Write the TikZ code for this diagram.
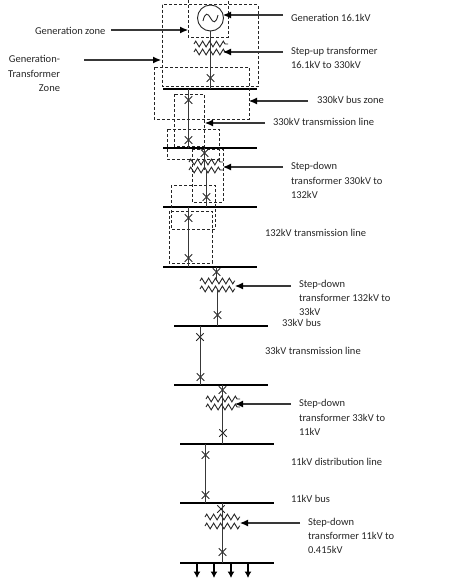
\documentclass[tikz,border=0pt]{standalone}
\usepackage{fontspec}
\setmainfont{Carlito}
\usetikzlibrary{arrows.meta,decorations.pathmorphing,shapes.misc}
\definecolor{ln}{HTML}{383838}
\tikzset{
 busbar/.style={draw=black,line width=1.7pt},
 feeder/.style={draw=ln,line width=1.2pt},
 zonebox/.style={draw=black!85,line width=0.9pt,dash pattern=on 3pt off 2pt},
 brk/.style={cross out,draw=black!85,line width=0.9pt,minimum size=7.5pt,inner sep=0pt,outer sep=0pt},
 winding/.style={draw=black!85,line width=0.9pt,decorate,decoration={zigzag,segment length=6.9pt,amplitude=2.9pt}},
 pointer/.style={draw=ln,line width=1.1pt,-{Latex[length=8pt,width=7pt,black]}},
 lab/.style={font=\fontsize{10.5pt}{14.3pt}\selectfont,text=black!85,inner sep=0pt,outer sep=0pt,anchor=west,align=left},
 load/.style={draw=black,line width=1.1pt,-{Latex[length=6.5pt,width=7pt]}},
}
\begin{document}
\begin{tikzpicture}[x=1pt,y=-1pt]
\useasboundingbox (0,0) rectangle (474,579);
% buses
\foreach \n/\xa/\xb/\yy in {1/163/257/89,2/163/257/148,3/163/257/207,4/163/257/267,5/174/268/326,6/174/268/385,7/180/274/444,8/180/274/503,9/180/274/563}{
 \coordinate (b\n l) at (\xa,\yy); \coordinate (b\n r) at (\xb,\yy);
 \draw[busbar] (b\n l) -- (b\n r);
}
% zones
\draw[zonebox] (188,0) -- (188,37) -- (228,37) -- (228,0);
\draw[zonebox] (162,4.5) rectangle (258,86);
\draw[zonebox] (154,67) rectangle (249,119);
\draw[zonebox] (174,94) rectangle (204,146);
\draw[zonebox] (167,129) rectangle (219,159);
\draw[zonebox] (192,149) rectangle (223,202);
\draw[zonebox] (171,185) rectangle (215,229);
\draw[zonebox] (169,211) rectangle (212,263);
% generator
\node[circle,draw=black!85,line width=0.9pt,minimum size=26pt,inner sep=0pt] (gen) at (210.5,18) {};
\draw[black!85,line width=0.9pt] (203,21) .. controls (205,12) and (208,13) .. (210.5,18) .. controls (213,23) and (216,24) .. (218,15);
% breakers
\foreach \n/\xx/\yy in {a/210.5/78,b/188.5/100,c/188.5/140,d/204.5/153,e/206.5/197,f/188.5/218,g/188.5/258,h/216.5/272,i/217.5/315,j/200/337,k/200.5/377,l/222.5/390,m/223/433,n/205.5/455,o/205.5/495,p/221/509,q/222.5/552}{
 \node[brk] (x\n) at (\xx,\yy) {};
}
% windings
\foreach \n/\xa/\xb/\yy in {1/194/228/44,2/194/228/52,3/189/223/162,4/189/223/170,5/200/235/281,6/200/235/289,7/206/240/399,8/206/240/407,9/205/240/517,10/205/240/526}{
 \coordinate (w\n l) at (\xa,\yy); \coordinate (w\n r) at (\xb,\yy);
 \draw[winding] (w\n l) -- (w\n r);
}
% feeders
\draw[feeder] (gen.south) -- (gen.south |- b1l);
\coordinate (t1) at (188.5,89); \coordinate (t1b) at (188.5,148);
\draw[feeder] (t1) -- (t1b);
\coordinate (t2) at (204.5,148); \coordinate (t2b) at (204.5,170);
\draw[feeder] (t2) -- (t2b);
\coordinate (t2c) at (206.5,170); \coordinate (t2d) at (206.5,207);
\draw[feeder] (t2c) -- (t2d);
\coordinate (t3) at (188.5,207); \coordinate (t3b) at (188.5,267);
\draw[feeder] (t3) -- (t3b);
\coordinate (t4) at (216.5,267); \coordinate (t4b) at (216.5,281);
\draw[feeder] (t4) -- (t4b);
\coordinate (t4c) at (217.5,289); \coordinate (t4d) at (217.5,326);
\draw[feeder] (t4c) -- (t4d);
\coordinate (t5) at (200.5,326); \coordinate (t5b) at (200.5,385);
\draw[feeder] (t5) -- (t5b);
\coordinate (t6) at (222.5,385); \coordinate (t6b) at (222.5,444);
\draw[feeder] (t6) -- (t6b);
\coordinate (t7) at (205.5,444); \coordinate (t7b) at (205.5,503);
\draw[feeder] (t7) -- (t7b);
\coordinate (t8) at (222.5,503); \coordinate (t8b) at (222.5,563);
\draw[feeder] (t8) -- (t8b);
% loads
\foreach \n/\xx in {1/197,2/214,3/231,4/248}{
 \coordinate (la\n) at (\xx,563); \coordinate (lb\n) at (\xx,578);
 \draw[load] (la\n) -- (lb\n);
}
% labels
\node[lab] (lgen) at (291,18) {Generation 16.1kV};
\node[lab] (lgz) at (35,31) {Generation zone};
\node[lab,align=right,anchor=east] (lgt) at (60,73.5) {Generation-\\Transformer\\Zone};
\node[lab] (lsu) at (291,58) {Step-up transformer\\16.1kV to 330kV};
\node[lab] (lbz) at (317,100) {330kV bus zone};
\node[lab] (ltl) at (273,122) {330kV transmission line};
\node[lab] (lsd1) at (291,180.5) {Step-down\\transformer 330kV to\\132kV};
\node[lab] (l132) at (265,232.5) {132kV transmission line};
\node[lab] (lsd2) at (299,298) {Step-down\\transformer 132kV to\\33kV};
\node[lab] (l33b) at (282,322.5) {33kV bus};
\node[lab] (l33t) at (265,351) {33kV transmission line};
\node[lab] (lsd3) at (299,417.5) {Step-down\\transformer 33kV to\\11kV};
\node[lab] (l11d) at (291,462) {11kV distribution line};
\node[lab] (l11b) at (291,499) {11kV bus};
\node[lab] (lsd4) at (308,536) {Step-down\\transformer 11kV to\\0.415kV};
% pointers
\foreach \n/\xa/\ya/\xb/\yb in {1/283/15/223/15,2/111/30/188/30,3/84/60/161/60,4/283/52/223/52,5/308/101/249/101,6/265/123/205/123,7/283/167/223/167,8/291/286/235/286,9/291/404/235/404,10/300/523/240/523}{
 \coordinate (ps\n) at (\xa,\ya); \coordinate (pe\n) at (\xb,\yb);
 \draw[pointer] (ps\n) -- (pe\n);
}
\end{tikzpicture}
\end{document}
